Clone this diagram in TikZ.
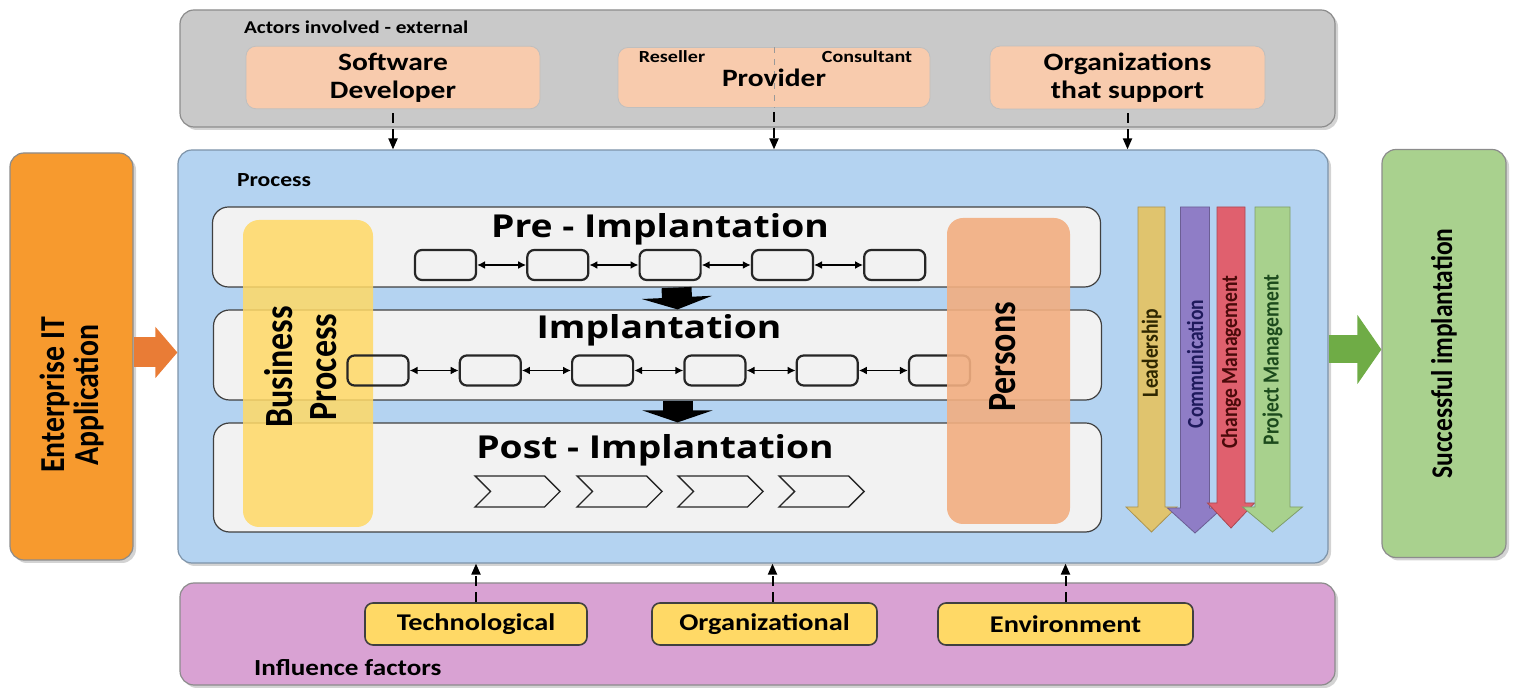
\documentclass[tikz,border=0pt]{standalone}
\usepackage{fontspec}
\setmainfont{Carlito}[FakeStretch=1.18]
\newfontfamily\sidefont{Carlito}[FakeStretch=0.85]
\newfontfamily\headfont{Open Sans}[FakeStretch=1.18]
\usetikzlibrary{arrows.meta, positioning, calc, shapes.symbols, shadows}

\definecolor{panelgray}{HTML}{C9C9C9}
\definecolor{actorfill}{HTML}{F8CBAD}
\definecolor{processblue}{HTML}{B4D3F1}
\definecolor{bandfill}{HTML}{F2F2F2}
\definecolor{bizyellow}{HTML}{FFD966}
\definecolor{personfill}{HTML}{F2AE80}
\definecolor{factorpink}{HTML}{D9A2D3}
\definecolor{factoryellow}{HTML}{FFD966}
\definecolor{entorange}{HTML}{F79A2E}
\definecolor{entarrow}{HTML}{E97C36}
\definecolor{successgreen}{HTML}{A9D18E}
\definecolor{successarrow}{HTML}{6FAC46}
\definecolor{leadfill}{HTML}{E0C46E}
\definecolor{leadtext}{HTML}{2E2600}
\definecolor{commfill}{HTML}{8F7DC6}
\definecolor{commtext}{HTML}{1F1A5C}
\definecolor{changefill}{HTML}{E0606E}
\definecolor{changetext}{HTML}{4A0A0A}
\definecolor{projfill}{HTML}{A8D18D}
\definecolor{projtext}{HTML}{1C4A1C}

\begin{document}
\begin{tikzpicture}[x=0.5pt, y=-0.5pt, font=\bfseries,
  panel/.style={draw=black!45, line width=0.6pt, rounded corners=7pt,
    drop shadow={shadow xshift=1.5pt, shadow yshift=-1.5pt, opacity=0.35}},
  actor/.style={draw=black!25, fill=actorfill, rounded corners=5pt, minimum height=30pt,
    align=center, font=\bfseries\fontsize{12.5}{14}\selectfont},
  factor/.style={draw=black!75, fill=factoryellow, rounded corners=4pt, minimum height=21pt,
    line width=0.8pt, font=\bfseries\fontsize{12}{14}\selectfont},
  band/.style={draw=black!75, fill=bandfill, rounded corners=8pt, minimum width=444pt, line width=0.6pt},
  stepbox/.style={draw=black!85, rounded corners=3.5pt, line width=1.1pt, minimum width=30.5pt, minimum height=15pt},
  link/.style={{Latex[length=4pt,width=4pt]}-{Latex[length=4pt,width=4pt]}, line width=0.9pt},
  chevron/.style={signal, signal from=west, signal to=east, draw=black!85, line width=0.7pt,
    minimum width=42.5pt, minimum height=15.5pt, inner sep=0pt},
  flow/.style={line width=1pt, dash pattern=on 5pt off 3pt, -{Triangle[length=5.5pt,width=4.5pt]}},
  phase/.style={line width=15pt, -{Triangle[length=6pt,width=35pt]}},
  phasetitle/.style={font=\headfont\bfseries\fontsize{15.8}{18}\selectfont},
  stripe/.style={rounded corners=8pt, inner sep=0pt},
  sidetext/.style={font=\sidefont\bfseries\fontsize{11.5}{12}\selectfont},
  smalllabel/.style={anchor=west, font=\bfseries\fontsize{#1}{12}\selectfont}]

  \useasboundingbox (0,0) rectangle (1514,688);

  % actors involved
  \node[panel, fill=panelgray, minimum width=577.5pt, minimum height=58.5pt] (actors) at (757.5,68.5) {};
  \node[smalllabel=9] (actorslabel) at (237,27) {Actors involved - external};
  \node[actor, minimum width=147pt] (softdev) at (393,77.5) {Software\\Developer};
  \node[actor, minimum width=156pt] (provider) at (774,77.5) {};
  \draw[black!40, dashed, line width=0.4pt] (provider.north) -- (provider.south);
  \node[font=\bfseries\fontsize{12.5}{14}\selectfont] (providertext) at (provider) {Provider};
  \node[font=\bfseries\fontsize{8.5}{10}\selectfont] (reseller) at (672,57) {Reseller};
  \node[font=\bfseries\fontsize{8.5}{10}\selectfont] (consultant) at (867,57) {Consultant};
  \node[actor, minimum width=137.5pt] (orgs) at (1127.5,77.5) {Organizations\\that support};

  % influence factors
  \node[panel, fill=factorpink, minimum width=577.5pt, minimum height=51pt] (factors) at (757.5,634) {};
  \node[smalllabel=11.5] (factorslabel) at (247,668) {Influence factors};
  \node[factor, minimum width=111pt] (tech) at (476,624) {Technological};
  \node[factor, minimum width=112.5pt] (orgf) at (764.5,624) {Organizational};
  \node[factor, minimum width=127.5pt] (env) at (1065.5,624) {Environment};

  % side boxes
  \node[panel, fill=entorange, minimum width=61.5pt, minimum height=203.5pt] (entapp) at (71.5,356.5) {};
  \node[rotate=90, align=center, font=\sidefont\bfseries\fontsize{17.5}{17}\selectfont] (entlabel) at (72,395) {Enterprise IT\\Application};
  \node[panel, fill=successgreen, minimum width=62pt, minimum height=204pt] (success) at (1444,353.5) {};
  \node[rotate=90, font=\sidefont\bfseries\fontsize{15}{18}\selectfont] (successlabel) at (success) {Successful implantation};

  % process
  \node[panel, fill=processblue, draw=processblue!70!black, minimum width=575pt, minimum height=206.5pt] (process) at (753,356.5) {};
  \node[smalllabel=10] (processlabel) at (230,180) {Process};

  \draw[flow] ([yshift=-2pt]softdev.south) -- (softdev.south |- process.north);
  \draw[flow] ([yshift=-2pt]provider.south) -- (provider.south |- process.north);
  \draw[flow] ([yshift=-2pt]orgs.south) -- (orgs.south |- process.north);
  \draw[flow] (tech.north) -- (tech.north |- process.south);
  \draw[flow] ([xshift=4pt]orgf.north) -- ([xshift=4pt]orgf.north |- process.south);
  \draw[flow] (env.north) -- (env.north |- process.south);

  \draw[entarrow, line width=15pt, -{Triangle[length=11pt,width=25pt]}] ([yshift=2pt]entapp.east) -- ([yshift=2pt]entapp.east -| process.west);
  \draw[successarrow, line width=14pt, -{Triangle[length=12pt,width=34pt]}] ([yshift=3.5pt]process.east) -- ([yshift=3.5pt]process.east -| success.west);

  % phases
  \node[band, minimum height=40pt] (preband) at (656.5,247) {};
  \node[band, minimum height=45pt] (implband) at (657.5,355) {};
  \node[band, minimum height=54.5pt] (postband) at (657.5,477.5) {};
  \node[phasetitle] (pretitle) at (660,229) {Pre - Implantation};
  \node[phasetitle] (impltitle) at (659,330) {Implantation};
  \node[phasetitle] (posttitle) at (655,450) {Post - Implantation};

  \draw[phase] ([xshift=10pt]preband.south) -- ([xshift=10pt]implband.north);
  \draw[phase] ([xshift=10pt]implband.south) -- ([xshift=10pt]postband.north);

  % business process
  \node[stripe, fill=bizyellow, fill opacity=0.85, minimum width=65pt, minimum height=153.5pt] (bizproc) at (308,373.5) {};
  \node[rotate=90, align=center, font=\sidefont\bfseries\fontsize{20}{22}\selectfont] (biztext) at (301,367) {Business\\Process};

  \foreach \i in {1,...,5}
    \node[stepbox] (prestep\i) at ({445.5+112.3*(\i-1)},265) {};
  \foreach \i [count=\j from 2] in {1,...,4}
    \draw[link] (prestep\i) -- (prestep\j);
  \foreach \i in {1,...,6}
    \node[stepbox] (implstep\i) at ({378+112.3*(\i-1)},370.5) {};
  \foreach \i [count=\j from 2] in {1,...,5}
    \draw[link] (implstep\i) -- (implstep\j);
  \foreach \i/\x in {1/517.5, 2/619.5, 3/720.5, 4/821.5}
    \node[chevron] (chev\i) at (\x,491.5) {};

  % persons
  \node[stripe, fill=personfill, fill opacity=0.9, minimum width=61.5pt, minimum height=153pt] (persons) at (1008.5,371) {};
  \node[rotate=90, font=\sidefont\bfseries\fontsize{20}{22}\selectfont] (personstext) at (1003,357) {Persons};

  % cross-cutting arrows
  \foreach \n/\x/\w/\h/\tip/\c/\tc/\ty/\t in {lead/1151.5/13.5/25.5/532/leadfill/leadtext/353/Leadership,
      comm/1195/14.5/27.5/533/commfill/commtext/364/Communication,
      change/1231/14/23.5/528/changefill/changetext/362/Change Management,
      proj/1272.5/17.5/30/532/projfill/projtext/360/Project Management}
  {
    \draw[\c!75!black, line width=0.4pt, fill=\c] (\x-\w,207) -- (\x+\w,207) -- (\x+\w,\tip-25)
      -- (\x+\h,\tip-25) -- (\x,\tip) -- (\x-\h,\tip-25) -- (\x-\w,\tip-25) -- cycle;
    \node[sidetext, text=\tc, rotate=90] (\n) at (\x,\ty) {\t};
  }
\end{tikzpicture}
\end{document}
